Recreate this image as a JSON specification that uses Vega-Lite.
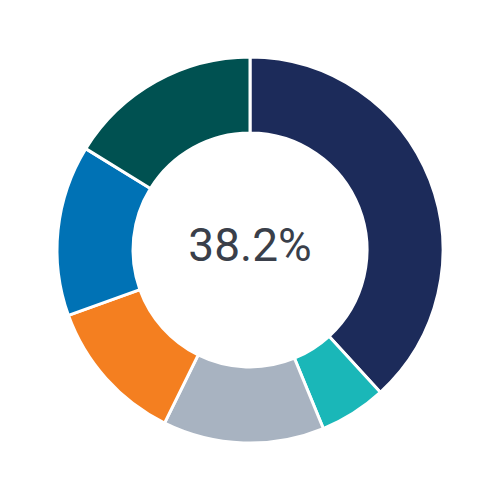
{
  "$schema": "https://vega.github.io/schema/vega-lite/v6.json",
  "width": 500,
  "height": 500,
  "padding": 0,
  "autosize": {"type": "fit", "contains": "padding"},
  "background": "white",
  "config": {"view": {"stroke": null}},
  "data": {
    "values": [
      {"segment": "A", "order": 1, "share": 38.2},
      {"segment": "B", "order": 2, "share": 5.6},
      {"segment": "C", "order": 3, "share": 13.5},
      {"segment": "D", "order": 4, "share": 12.2},
      {"segment": "E", "order": 5, "share": 14.3},
      {"segment": "F", "order": 6, "share": 16.2}
    ]
  },
  "layer": [
    {
      "mark": {"type": "arc", "outerRadius": 193, "innerRadius": 117, "stroke": "white", "strokeWidth": 3},
      "encoding": {
        "theta": {"field": "share", "type": "quantitative", "stack": true},
        "order": {"field": "order", "type": "quantitative"},
        "color": {
          "field": "segment",
          "type": "nominal",
          "legend": null,
          "scale": {
            "domain": ["A", "B", "C", "D", "E", "F"],
            "range": ["#1c2b5a", "#1ab7b8", "#a8b3c1", "#f47f20", "#0072b5", "#005151"]
          }
        }
      }
    },
    {
      "data": {"values": [{"label": "38.2%"}]},
      "mark": {"type": "text", "fontSize": 46, "font": "Roboto", "fontWeight": "normal", "color": "#3a3f4a", "align": "center", "baseline": "middle", "dy": -3},
      "encoding": {"text": {"field": "label"}}
    }
  ]
}
